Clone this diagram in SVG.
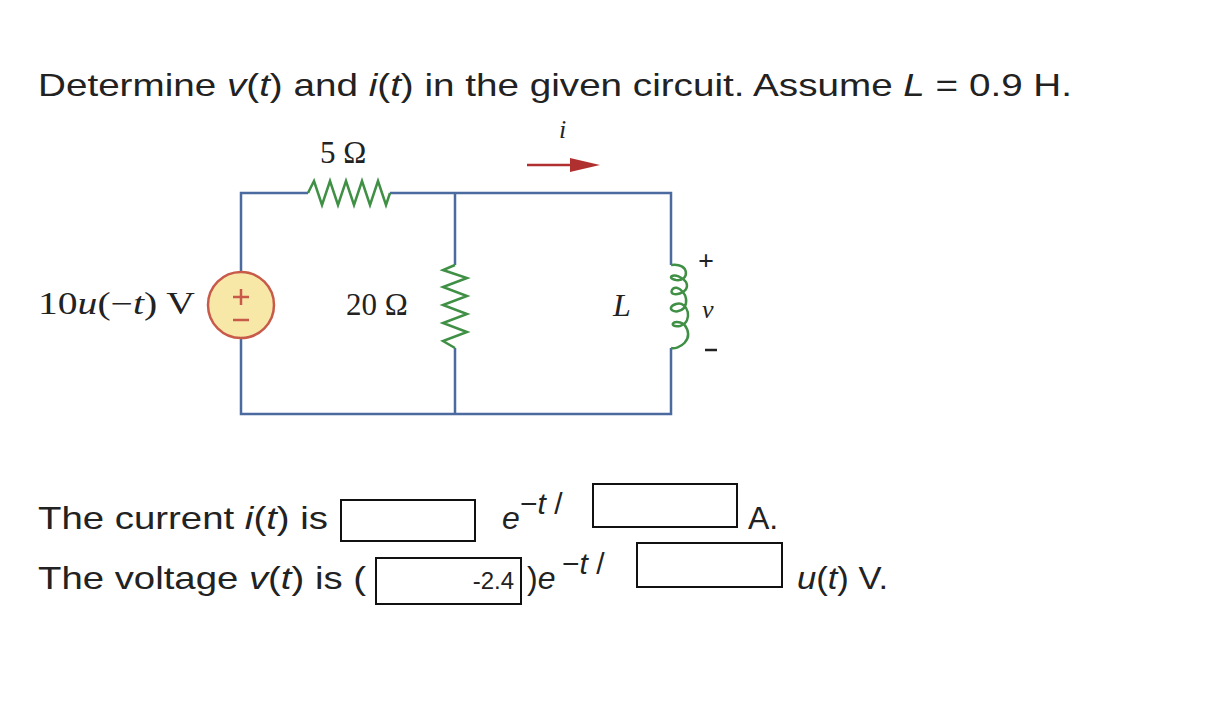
<svg xmlns="http://www.w3.org/2000/svg" width="1205" height="717" viewBox="0 0 1205 717">
<style>
.t{font-family:"Liberation Sans",sans-serif;fill:#222}
.s{font-family:"Liberation Serif",serif;fill:#222}
.w{stroke:#4a6aa0;stroke-width:2.5;fill:none}
.g{stroke:#3f8f45;stroke-width:2.5;fill:none}
.b{fill:#fff;stroke:#111;stroke-width:2}
</style>
<rect width="1205" height="717" fill="#fff"/>
<text class="t" x="38" y="96" font-size="32" textLength="1034" lengthAdjust="spacingAndGlyphs">Determine <tspan font-style="italic">v</tspan>(<tspan font-style="italic">t</tspan>) and <tspan font-style="italic">i</tspan>(<tspan font-style="italic">t</tspan>) in the given circuit. Assume <tspan font-style="italic">L</tspan> = 0.9 H.</text>
<g id="wires">
<path class="w" d="M241,271 V193 H308 M390,193 H671 V265 M671,348 V414 H241 V339 M455,193 V265 M455,348 V414"/>
</g>
<g id="R5"><path class="g" d="M308,193 L314,181 L322,205 L330,181 L338,205 L346,181 L354,205 L362,181 L370,205 L378,181 L386,205 L390,193"/>
<text class="s" x="320" y="163" font-size="31">5 Ω</text></g>
<g id="R20"><path class="g" d="M455,265 L443,270 L467,278 L443,287 L467,296 L443,305 L467,314 L443,323 L467,332 L443,341 L455,348"/>
<text class="s" x="346" y="315" font-size="31">20 Ω</text></g>
<g id="L"><path class="g" d="M671,265 C690,262 690,282 676,280 C664,278 676,270 686,282 C692,294 668,298 672,290 C676,282 692,296 684,308 C676,316 664,308 676,304 C688,300 694,322 680,326 C668,328 672,318 684,324 C696,340 678,350 671,348"/>
<text class="s" x="613" y="316" font-size="32" font-style="italic">L</text>
<text class="s" x="698" y="270" font-size="28" font-weight="bold">+</text>
<text class="s" x="702" y="318" font-size="26" font-style="italic">v</text>
<line x1="705" y1="350" x2="717" y2="350" stroke="#222" stroke-width="2.5"/></g>
<g id="src"><circle cx="241" cy="305" r="33" fill="#f8e8a8" stroke="#c85a4a" stroke-width="2.5"/>
<line x1="233" y1="297" x2="249" y2="297" stroke="#c85a4a" stroke-width="2.5"/>
<line x1="241" y1="289" x2="241" y2="305" stroke="#c85a4a" stroke-width="2.5"/>
<line x1="233" y1="320" x2="249" y2="320" stroke="#c85a4a" stroke-width="2.5"/>
<text class="s" x="38" y="314" font-size="31" textLength="157" lengthAdjust="spacingAndGlyphs">10<tspan font-style="italic">u</tspan>(−<tspan font-style="italic">t</tspan>) V</text></g>
<g id="arrow"><line x1="527" y1="165" x2="575" y2="165" stroke="#b03030" stroke-width="2.5"/>
<polygon points="570,158 600,165 570,172" fill="#b03030"/>
<text class="s" x="559" y="138" font-size="26" font-style="italic">i</text></g>
<g id="answers">
<text class="t" x="38" y="529" font-size="32" textLength="290" lengthAdjust="spacingAndGlyphs">The current <tspan font-style="italic">i</tspan>(<tspan font-style="italic">t</tspan>) is</text>
<rect class="b" x="341" y="500" width="134" height="41"/>
<text class="t" x="502" y="529" font-size="32" font-style="italic">e</text>
<text class="t" x="520" y="514" font-size="30">−<tspan font-style="italic">t</tspan> /</text>
<rect class="b" x="593" y="484" width="144" height="43"/>
<text class="t" x="748" y="529" font-size="32">A.</text>
<text class="t" x="38" y="589" font-size="32" textLength="328" lengthAdjust="spacingAndGlyphs">The voltage <tspan font-style="italic">v</tspan>(<tspan font-style="italic">t</tspan>) is (</text>
<rect class="b" x="376" y="558" width="145" height="46"/>
<text class="t" x="514" y="589" font-size="24" text-anchor="end">-2.4</text>
<text class="t" x="527" y="589" font-size="32">)<tspan font-style="italic">e</tspan></text>
<text class="t" x="562" y="574" font-size="30">−<tspan font-style="italic">t</tspan> /</text>
<rect class="b" x="637" y="543" width="145" height="44"/>
<text class="t" x="797" y="589" font-size="32" textLength="91" lengthAdjust="spacingAndGlyphs"><tspan font-style="italic">u</tspan>(<tspan font-style="italic">t</tspan>) V.</text>
</g>
</svg>
